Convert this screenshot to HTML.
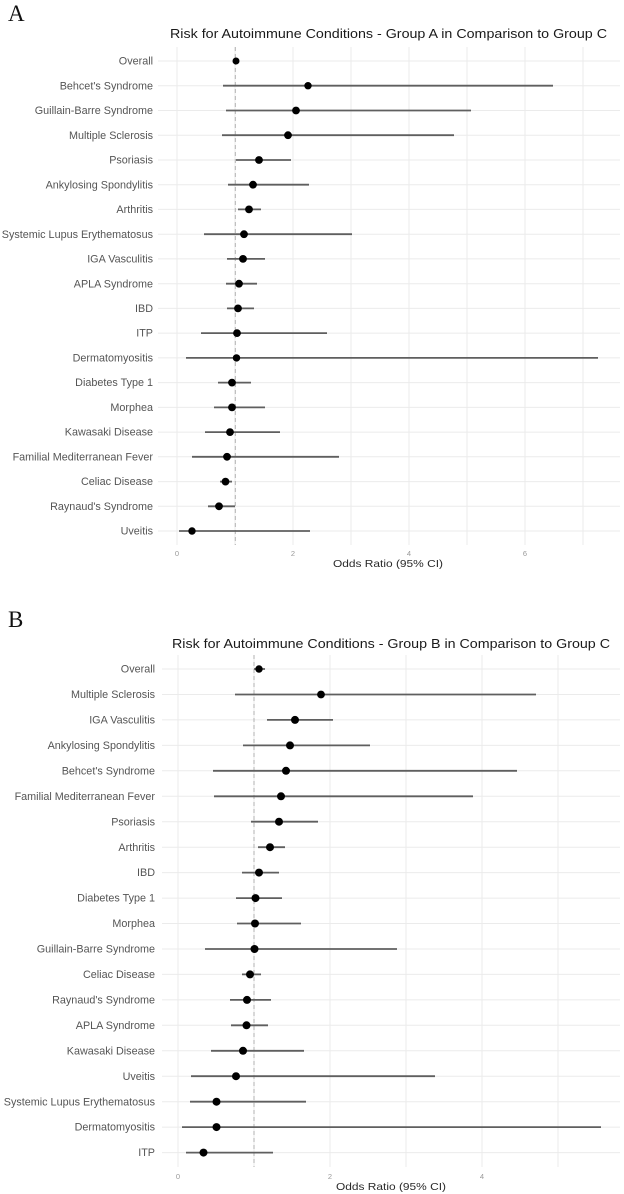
<!DOCTYPE html>
<html><head><meta charset="utf-8"><style>
html,body{margin:0;padding:0;background:#fff;}
svg{display:block;}
.lab{font-family:"Liberation Sans",sans-serif;font-size:10.8px;fill:#555;text-anchor:end;}
.tick{font-family:"Liberation Sans",sans-serif;font-size:7.5px;fill:#999;text-anchor:middle;}
.ttl{font-family:"Liberation Sans",sans-serif;font-size:12.5px;fill:#1a1a1a;}
.ax{font-family:"Liberation Sans",sans-serif;font-size:10.5px;fill:#2a2a2a;}
.big{font-family:"Liberation Serif",serif;font-size:23px;fill:#111;}
.g{stroke:#ebebeb;stroke-width:1;}
.ci{stroke:#5f5f5f;stroke-width:1.8;}
</style></head><body>
<svg width="624" height="1194" viewBox="0 0 624 1194" xmlns="http://www.w3.org/2000/svg">
<rect width="624" height="1194" fill="#fff"/>

<!-- Panel A -->
<text class="big" x="8" y="21">A</text>
<text class="ttl" x="170" y="38" textLength="437" lengthAdjust="spacingAndGlyphs">Risk for Autoimmune Conditions - Group A in Comparison to Group C</text>
<g class="g">
<line x1="177" y1="47" x2="177" y2="545"/><line x1="235" y1="47" x2="235" y2="545"/>
<line x1="293" y1="47" x2="293" y2="545"/><line x1="351" y1="47" x2="351" y2="545"/>
<line x1="409" y1="47" x2="409" y2="545"/><line x1="467" y1="47" x2="467" y2="545"/>
<line x1="525" y1="47" x2="525" y2="545"/><line x1="583" y1="47" x2="583" y2="545"/>
<line x1="158" y1="61" x2="620" y2="61"/><line x1="158" y1="85.7" x2="620" y2="85.7"/>
<line x1="158" y1="110.5" x2="620" y2="110.5"/><line x1="158" y1="135.2" x2="620" y2="135.2"/>
<line x1="158" y1="160" x2="620" y2="160"/><line x1="158" y1="184.7" x2="620" y2="184.7"/>
<line x1="158" y1="209.4" x2="620" y2="209.4"/><line x1="158" y1="234.2" x2="620" y2="234.2"/>
<line x1="158" y1="258.9" x2="620" y2="258.9"/><line x1="158" y1="283.7" x2="620" y2="283.7"/>
<line x1="158" y1="308.4" x2="620" y2="308.4"/><line x1="158" y1="333.1" x2="620" y2="333.1"/>
<line x1="158" y1="357.9" x2="620" y2="357.9"/><line x1="158" y1="382.6" x2="620" y2="382.6"/>
<line x1="158" y1="407.4" x2="620" y2="407.4"/><line x1="158" y1="432.1" x2="620" y2="432.1"/>
<line x1="158" y1="456.8" x2="620" y2="456.8"/><line x1="158" y1="481.6" x2="620" y2="481.6"/>
<line x1="158" y1="506.3" x2="620" y2="506.3"/><line x1="158" y1="531" x2="620" y2="531"/>
</g>
<line x1="235.3" y1="47" x2="235.3" y2="545" stroke="#b0b0b0" stroke-width="1" stroke-dasharray="4,3"/>
<g class="lab">
<text x="153" y="64.6">Overall</text>
<text x="153" y="89.3">Behcet's Syndrome</text>
<text x="153" y="114.1">Guillain-Barre Syndrome</text>
<text x="153" y="138.8">Multiple Sclerosis</text>
<text x="153" y="163.6">Psoriasis</text>
<text x="153" y="188.3">Ankylosing Spondylitis</text>
<text x="153" y="213">Arthritis</text>
<text x="153" y="237.8">Systemic Lupus Erythematosus</text>
<text x="153" y="262.5">IGA Vasculitis</text>
<text x="153" y="287.3">APLA Syndrome</text>
<text x="153" y="312">IBD</text>
<text x="153" y="336.7">ITP</text>
<text x="153" y="361.5">Dermatomyositis</text>
<text x="153" y="386.2">Diabetes Type 1</text>
<text x="153" y="411">Morphea</text>
<text x="153" y="435.7">Kawasaki Disease</text>
<text x="153" y="460.4">Familial Mediterranean Fever</text>
<text x="153" y="485.2">Celiac Disease</text>
<text x="153" y="509.9">Raynaud's Syndrome</text>
<text x="153" y="534.6">Uveitis</text>
</g>
<g class="ci">
<line x1="233" y1="61" x2="239" y2="61"/>
<line x1="223" y1="85.7" x2="553" y2="85.7"/>
<line x1="226" y1="110.5" x2="471" y2="110.5"/>
<line x1="222" y1="135.2" x2="454" y2="135.2"/>
<line x1="236" y1="160" x2="291" y2="160"/>
<line x1="228" y1="184.7" x2="309" y2="184.7"/>
<line x1="238" y1="209.4" x2="261" y2="209.4"/>
<line x1="204" y1="234.2" x2="352" y2="234.2"/>
<line x1="227" y1="258.9" x2="265" y2="258.9"/>
<line x1="226" y1="283.7" x2="257" y2="283.7"/>
<line x1="227" y1="308.4" x2="254" y2="308.4"/>
<line x1="201" y1="333.1" x2="327" y2="333.1"/>
<line x1="186" y1="357.9" x2="598" y2="357.9"/>
<line x1="218" y1="382.6" x2="251" y2="382.6"/>
<line x1="214" y1="407.4" x2="265" y2="407.4"/>
<line x1="205" y1="432.1" x2="280" y2="432.1"/>
<line x1="192" y1="456.8" x2="339" y2="456.8"/>
<line x1="220" y1="481.6" x2="232" y2="481.6"/>
<line x1="208" y1="506.3" x2="235" y2="506.3"/>
<line x1="179" y1="531" x2="310" y2="531"/>
</g>
<g fill="#000">
<circle cx="236" cy="61" r="3.5"/>
<circle cx="308" cy="85.7" r="3.7"/>
<circle cx="296" cy="110.5" r="3.9"/>
<circle cx="288" cy="135.2" r="3.9"/>
<circle cx="259" cy="160" r="3.9"/>
<circle cx="253" cy="184.7" r="3.9"/>
<circle cx="249" cy="209.4" r="3.9"/>
<circle cx="244" cy="234.2" r="3.9"/>
<circle cx="243" cy="258.9" r="3.9"/>
<circle cx="239" cy="283.7" r="3.9"/>
<circle cx="238" cy="308.4" r="3.9"/>
<circle cx="237" cy="333.1" r="3.9"/>
<circle cx="236.5" cy="357.9" r="3.7"/>
<circle cx="232" cy="382.6" r="3.9"/>
<circle cx="232" cy="407.4" r="3.9"/>
<circle cx="230" cy="432.1" r="3.9"/>
<circle cx="227" cy="456.8" r="3.9"/>
<circle cx="225.5" cy="481.6" r="3.9"/>
<circle cx="219" cy="506.3" r="3.9"/>
<circle cx="192" cy="531" r="3.7"/>
</g>
<g class="tick">
<text x="177" y="556">0</text><text x="293" y="556">2</text><text x="409" y="556">4</text><text x="525" y="556">6</text>
</g>
<text class="ax" x="333" y="567" textLength="110" lengthAdjust="spacingAndGlyphs">Odds Ratio (95% CI)</text>

<!-- Panel B -->
<text class="big" x="8" y="627">B</text>
<text class="ttl" x="172" y="648" textLength="438" lengthAdjust="spacingAndGlyphs">Risk for Autoimmune Conditions - Group B in Comparison to Group C</text>
<g class="g">
<line x1="178" y1="655" x2="178" y2="1167"/><line x1="254" y1="655" x2="254" y2="1167"/>
<line x1="330" y1="655" x2="330" y2="1167"/><line x1="406" y1="655" x2="406" y2="1167"/>
<line x1="482" y1="655" x2="482" y2="1167"/><line x1="558" y1="655" x2="558" y2="1167"/>
<line x1="162" y1="669" x2="620" y2="669"/><line x1="162" y1="694.5" x2="620" y2="694.5"/>
<line x1="162" y1="719.9" x2="620" y2="719.9"/><line x1="162" y1="745.4" x2="620" y2="745.4"/>
<line x1="162" y1="770.8" x2="620" y2="770.8"/><line x1="162" y1="796.3" x2="620" y2="796.3"/>
<line x1="162" y1="821.7" x2="620" y2="821.7"/><line x1="162" y1="847.2" x2="620" y2="847.2"/>
<line x1="162" y1="872.6" x2="620" y2="872.6"/><line x1="162" y1="898.1" x2="620" y2="898.1"/>
<line x1="162" y1="923.5" x2="620" y2="923.5"/><line x1="162" y1="949" x2="620" y2="949"/>
<line x1="162" y1="974.4" x2="620" y2="974.4"/><line x1="162" y1="999.9" x2="620" y2="999.9"/>
<line x1="162" y1="1025.3" x2="620" y2="1025.3"/><line x1="162" y1="1050.8" x2="620" y2="1050.8"/>
<line x1="162" y1="1076.2" x2="620" y2="1076.2"/><line x1="162" y1="1101.7" x2="620" y2="1101.7"/>
<line x1="162" y1="1127.1" x2="620" y2="1127.1"/><line x1="162" y1="1152.6" x2="620" y2="1152.6"/>
</g>
<line x1="254" y1="655" x2="254" y2="1167" stroke="#b0b0b0" stroke-width="1" stroke-dasharray="4,3"/>
<g class="lab">
<text x="155" y="672.6">Overall</text>
<text x="155" y="698.1">Multiple Sclerosis</text>
<text x="155" y="723.5">IGA Vasculitis</text>
<text x="155" y="749">Ankylosing Spondylitis</text>
<text x="155" y="774.4">Behcet's Syndrome</text>
<text x="155" y="799.9">Familial Mediterranean Fever</text>
<text x="155" y="825.3">Psoriasis</text>
<text x="155" y="850.8">Arthritis</text>
<text x="155" y="876.2">IBD</text>
<text x="155" y="901.7">Diabetes Type 1</text>
<text x="155" y="927.1">Morphea</text>
<text x="155" y="952.6">Guillain-Barre Syndrome</text>
<text x="155" y="978">Celiac Disease</text>
<text x="155" y="1003.5">Raynaud's Syndrome</text>
<text x="155" y="1028.9">APLA Syndrome</text>
<text x="155" y="1054.4">Kawasaki Disease</text>
<text x="155" y="1079.8">Uveitis</text>
<text x="155" y="1105.3">Systemic Lupus Erythematosus</text>
<text x="155" y="1130.7">Dermatomyositis</text>
<text x="155" y="1156.2">ITP</text>
</g>
<g class="ci">
<line x1="254" y1="669" x2="265" y2="669"/>
<line x1="235" y1="694.5" x2="536" y2="694.5"/>
<line x1="267" y1="719.9" x2="333" y2="719.9"/>
<line x1="243" y1="745.4" x2="370" y2="745.4"/>
<line x1="213" y1="770.8" x2="517" y2="770.8"/>
<line x1="214" y1="796.3" x2="473" y2="796.3"/>
<line x1="251" y1="821.7" x2="318" y2="821.7"/>
<line x1="258" y1="847.2" x2="285" y2="847.2"/>
<line x1="242" y1="872.6" x2="279" y2="872.6"/>
<line x1="236" y1="898.1" x2="282" y2="898.1"/>
<line x1="237" y1="923.5" x2="301" y2="923.5"/>
<line x1="205" y1="949" x2="397" y2="949"/>
<line x1="242" y1="974.4" x2="261" y2="974.4"/>
<line x1="230" y1="999.9" x2="271" y2="999.9"/>
<line x1="231" y1="1025.3" x2="268" y2="1025.3"/>
<line x1="211" y1="1050.8" x2="304" y2="1050.8"/>
<line x1="191" y1="1076.2" x2="435" y2="1076.2"/>
<line x1="190" y1="1101.7" x2="306" y2="1101.7"/>
<line x1="182" y1="1127.1" x2="601" y2="1127.1"/>
<line x1="186" y1="1152.6" x2="273" y2="1152.6"/>
</g>
<g fill="#000">
<circle cx="259" cy="669" r="3.7"/>
<circle cx="321" cy="694.5" r="3.9"/>
<circle cx="295" cy="719.9" r="4"/>
<circle cx="290" cy="745.4" r="4"/>
<circle cx="286" cy="770.8" r="4"/>
<circle cx="281" cy="796.3" r="4"/>
<circle cx="279" cy="821.7" r="4"/>
<circle cx="270" cy="847.2" r="4"/>
<circle cx="259" cy="872.6" r="4"/>
<circle cx="255.5" cy="898.1" r="4"/>
<circle cx="255" cy="923.5" r="4"/>
<circle cx="254.5" cy="949" r="4"/>
<circle cx="250" cy="974.4" r="4"/>
<circle cx="247" cy="999.9" r="4"/>
<circle cx="246.5" cy="1025.3" r="4"/>
<circle cx="243" cy="1050.8" r="4"/>
<circle cx="236" cy="1076.2" r="4"/>
<circle cx="216.5" cy="1101.7" r="4"/>
<circle cx="216.5" cy="1127.1" r="4"/>
<circle cx="203.5" cy="1152.6" r="4"/>
</g>
<g class="tick">
<text x="178" y="1179">0</text><text x="330" y="1179">2</text><text x="482" y="1179">4</text>
</g>
<text class="ax" x="336" y="1190" textLength="110" lengthAdjust="spacingAndGlyphs">Odds Ratio (95% CI)</text>
</svg>
</body></html>
